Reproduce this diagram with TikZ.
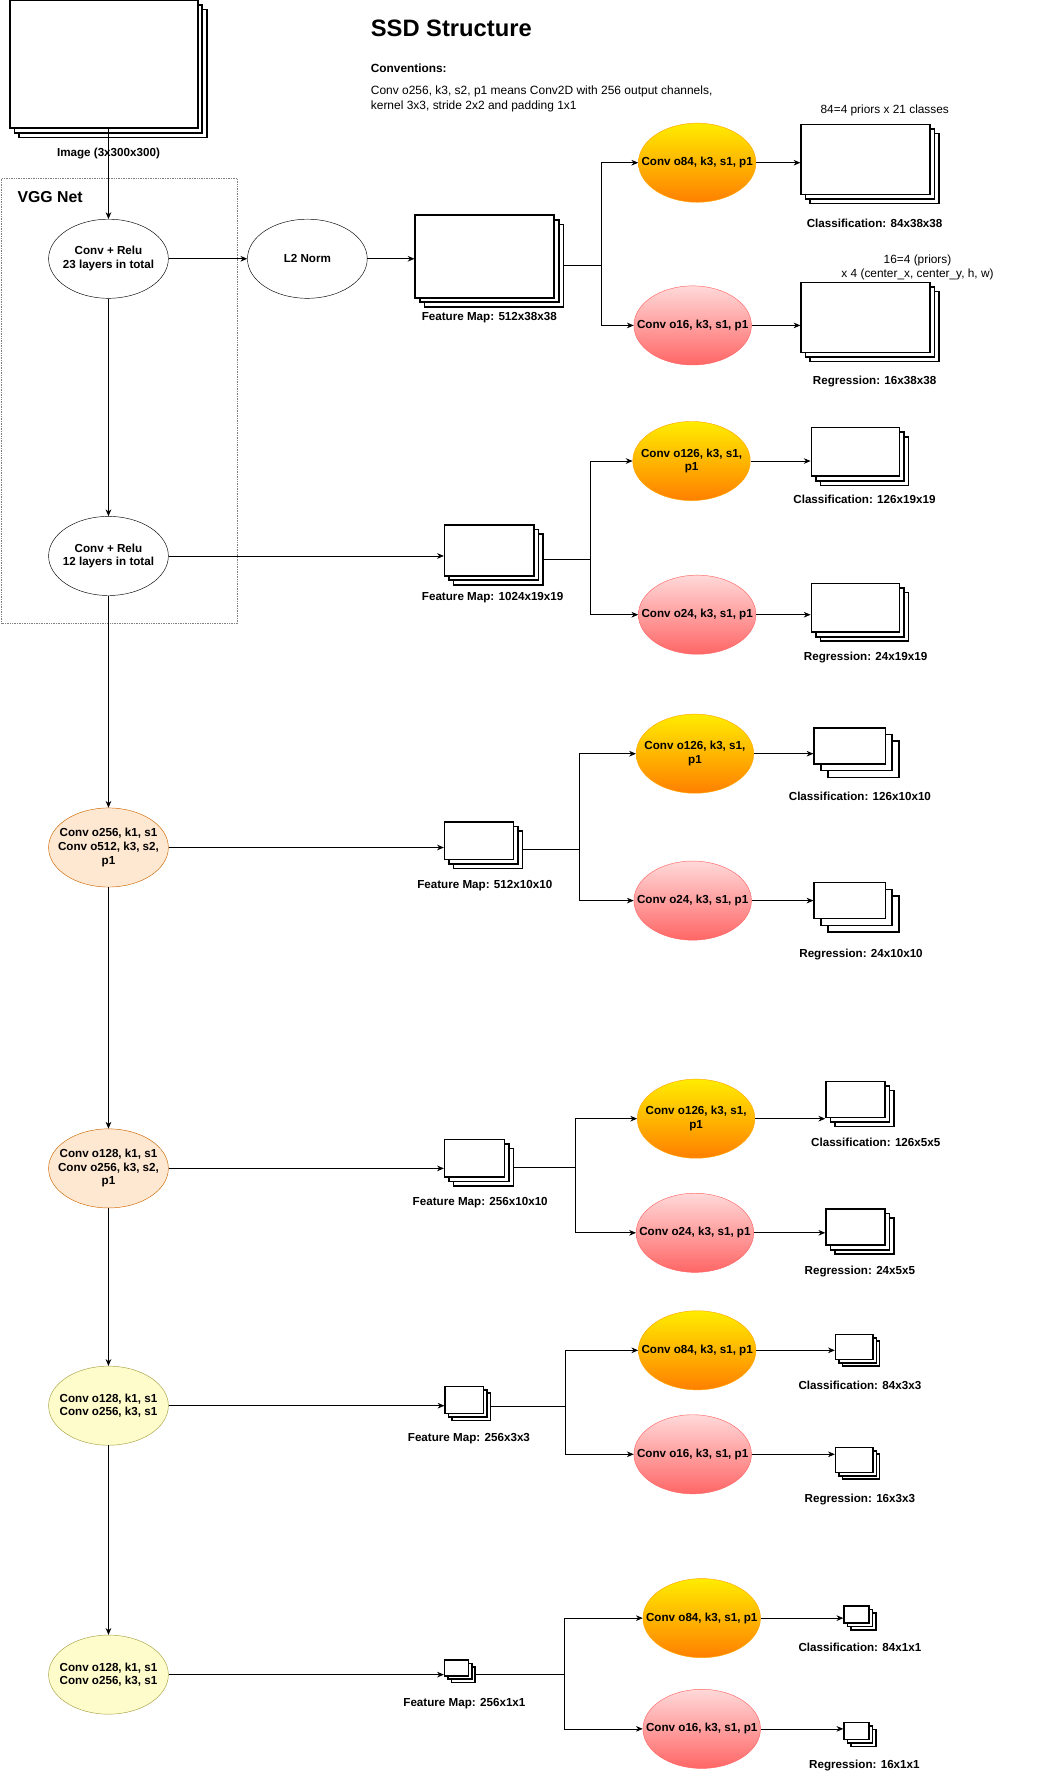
\documentclass[tikz,border=0pt]{standalone}
\usepackage{fontspec}
\setmainfont{Liberation Sans}
\usetikzlibrary{arrows.meta,shapes.geometric}
\newcommand\fmstack[6]{%
  \node[box,minimum width=#4pt,minimum height=#5pt] (#1c) at ({#2+2*#6},{#3+2*#6}) {};
  \node[box,minimum width=#4pt,minimum height=#5pt] (#1b) at ({#2+#6},{#3+#6}) {};
  \node[box,minimum width=#4pt,minimum height=#5pt] (#1) at (#2,#3) {};}
\begin{document}
\begin{tikzpicture}[x=1pt,y=-1pt,
  box/.style={draw,line width=1.4pt,fill=white,inner sep=0pt},
  el/.style={ellipse,draw,line width=0.4pt,minimum width=106pt,minimum height=70pt,inner xsep=-22pt,inner ysep=-6pt,align=center,font=\bfseries\fontsize{10.3}{12}\selectfont},
  wh/.style={el,fill=white},
  lo/.style={el,fill=orange!18,draw=orange!80!black},
  ye/.style={el,fill=yellow!20,draw=yellow!60!black},
  og/.style={el,draw=orange!70!yellow,top color=yellow!85!orange,bottom color=orange,minimum width=104pt},
  rd/.style={el,draw=red!60,top color=red!15,bottom color=red!60,minimum width=104pt},
  lab/.style={font=\bfseries\fontsize{10.3}{12}\selectfont,align=center},
  note/.style={font=\fontsize{10.5}{12.5}\selectfont,align=center},
  arr/.style={-{Stealth[length=6pt,width=5pt]},line width=0.6pt}]
\useasboundingbox (0,0) rectangle (937,1585);
% title
\node[anchor=west,font=\bfseries\fontsize{21}{24}\selectfont,inner sep=0pt] (title) at (328,25) {SSD Structure};
\node[anchor=west,font=\bfseries\fontsize{10.5}{12}\selectfont,inner sep=0pt] (conv) at (328,60) {Conventions:};
\node[anchor=north west,font=\fontsize{10.6}{13}\selectfont,align=left,inner sep=0pt] (desc) at (328,76) {Conv o256, k3, s2, p1 means Conv2D with 256 output channels,\\kernel 3x3, stride 2x2 and padding 1x1};
% image
\fmstack{img}{92}{57}{166}{113}{4}
\node[lab] (imgl) at (96,136) {Image (3x300x300)};
% VGG box
\draw[densely dotted,gray,line width=0.5pt] (1,158) rectangle (210,552);
\node[anchor=west,font=\bfseries\fontsize{14}{16}\selectfont] (vgg) at (12,174) {VGG Net};
% main column
\node[wh] (e1) at (96,229) {Conv + Relu\\23 layers in total};
\node[wh] (l2) at (272,229) {L2 Norm};
\node[wh] (e2) at (96,492) {Conv + Relu\\12 layers in total};
\node[lo] (e3) at (96,750) {Conv o256, k1, s1\\Conv o512, k3, s2,\\p1};
\node[lo] (e4) at (96,1034) {Conv o128, k1, s1\\Conv o256, k3, s2,\\p1};
\node[ye] (e5) at (96,1244) {Conv o128, k1, s1\\Conv o256, k3, s1};
\node[ye] (e6) at (96,1482) {Conv o128, k1, s1\\Conv o256, k3, s1};
\draw[arr] (img.south -| e1) -- (e1);
\draw[arr] (e1) -- (e2);
\draw[arr] (e2) -- (e3);
\draw[arr] (e3) -- (e4);
\draw[arr] (e4) -- (e5);
\draw[arr] (e5) -- (e6);
\draw[arr] (e1) -- (l2);
% feature maps
\fmstack{f1}{429}{227}{123}{73}{4}
\node[lab] (f1l) at (433,281) {Feature Map: 512x38x38};
\fmstack{f2}{433}{487}{79}{45}{4}
\node[lab] (f2l) at (436,529) {Feature Map: 1024x19x19};
\fmstack{f3}{424}{744}{61}{33}{4}
\node[lab] (f3l) at (429,784) {Feature Map: 512x10x10};
\fmstack{f4}{420}{1025}{53}{33}{4}
\node[lab] (f4l) at (425,1064) {Feature Map: 256x10x10};
\fmstack{f5}{411}{1239}{34}{24}{3}
\node[lab] (f5l) at (415,1273) {Feature Map: 256x3x3};
\fmstack{f6}{404}{1476}{21}{14}{3}
\node[lab] (f6l) at (411,1508) {Feature Map: 256x1x1};
\draw[arr] (l2) -- (l2 -| f1.west);
\draw[arr] (e2) -- (e2 -| f2.west);
\draw[arr] (e3) -- (e3 -| f3.west);
\draw[arr] (e4) -- (e4 -| f4.west);
\draw[arr] (e5) -- (e5 -| f5.west);
\draw[arr] (e6) -- (e6 -| f6.west);
% heads
\node[og] (c1) at (617,144) {Conv o84, k3, s1, p1};
\node[rd] (r1) at (613,288) {Conv o16, k3, s1, p1};
\node[og] (c2) at (612,408) {Conv o126, k3, s1,\\p1};
\node[rd] (r2) at (617,544) {Conv o24, k3, s1, p1};
\node[og] (c3) at (615,667) {Conv o126, k3, s1,\\p1};
\node[rd] (r3) at (613,797) {Conv o24, k3, s1, p1};
\node[og] (c4) at (616,990) {Conv o126, k3, s1,\\p1};
\node[rd] (r4) at (615,1091) {Conv o24, k3, s1, p1};
\node[og] (c5) at (617,1195) {Conv o84, k3, s1, p1};
\node[rd] (r5) at (613,1287) {Conv o16, k3, s1, p1};
\node[og] (c6) at (621,1432) {Conv o84, k3, s1, p1};
\node[rd] (r6) at (621,1530) {Conv o16, k3, s1, p1};
\foreach \i/\bx in {1/532,2/522,3/513,4/509,5/500,6/499}{
  \draw[arr] (f\i c.east) -- (\bx,0 |- f\i c.east) |- (c\i.west);
  \draw[arr] (\bx,0 |- f\i c.east) |- (r\i.west);
}
% outputs
\fmstack{o1}{766}{141}{114}{62}{4}
\node[lab] (o1l) at (774,198) {Classification: 84x38x38};
\node[note] (o1n) at (783,98) {84=4 priors x 21 classes};
\fmstack{p1}{766}{281}{114}{62}{4}
\node[lab] (p1l) at (774,338) {Regression: 16x38x38};
\node[note] (p1n) at (812,237) {16=4 (priors)\\x 4 (center\_x, center\_y, h, w)};
\fmstack{o2}{757}{400}{78}{43}{4}
\node[lab] (o2l) at (765,442) {Classification: 126x19x19};
\fmstack{p2}{757}{538}{78}{43}{4}
\node[lab] (p2l) at (766,582) {Regression: 24x19x19};
\fmstack{o3}{752}{660}{63}{32}{6}
\node[lab] (o3l) at (761,705) {Classification: 126x10x10};
\fmstack{p3}{752}{797}{63}{32}{6}
\node[lab] (p3l) at (762,845) {Regression: 24x10x10};
\fmstack{o4}{757}{973}{52}{32}{4}
\node[lab] (o4l) at (775,1011) {Classification: 126x5x5};
\fmstack{p4}{757}{1086}{52}{32}{4}
\node[lab] (p4l) at (761,1125) {Regression: 24x5x5};
\fmstack{o5}{756}{1192}{33}{22}{3}
\node[lab] (o5l) at (761,1226) {Classification: 84x3x3};
\fmstack{p5}{756}{1292}{33}{22}{3}
\node[lab] (p5l) at (761,1327) {Regression: 16x3x3};
\fmstack{o6}{758}{1429}{22}{15}{3}
\node[lab] (o6l) at (761,1458) {Classification: 84x1x1};
\fmstack{p6}{758}{1532}{22}{15}{3}
\node[lab] (p6l) at (765,1562) {Regression: 16x1x1};
\foreach \i in {1,...,6}{
  \draw[arr] (c\i) -- (o\i.west |- c\i);
  \draw[arr] (r\i) -- (p\i.west |- r\i);
}
\end{tikzpicture}
\end{document}
